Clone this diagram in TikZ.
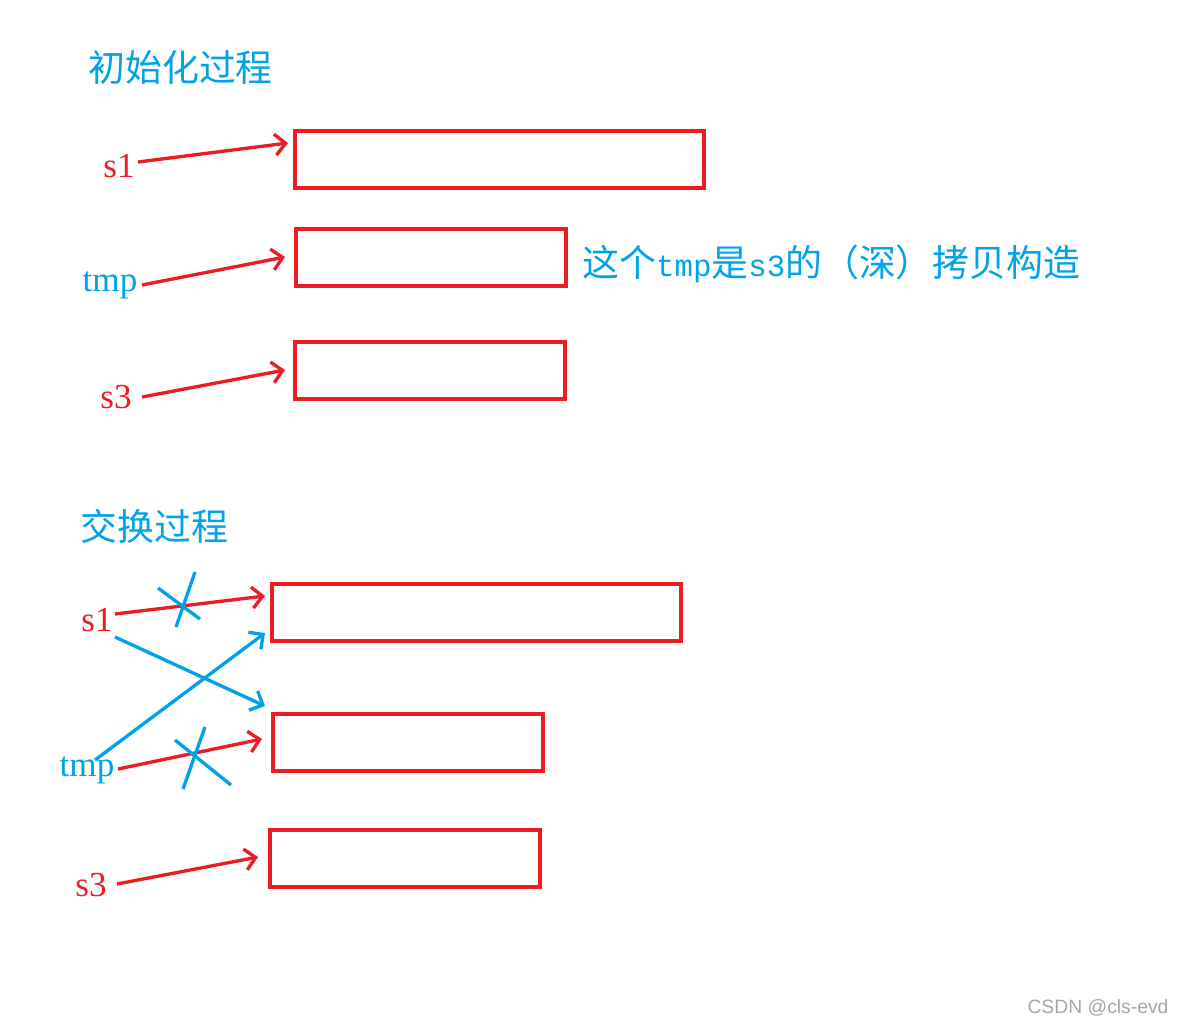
\documentclass[tikz,border=0pt]{standalone}
\usepackage{fontspec}
\setmainfont{Liberation Serif}
\newfontfamily\cjk{Noto Sans CJK SC}
\newfontfamily\monof{Liberation Mono}
\usetikzlibrary{arrows.meta}
\definecolor{rd}{RGB}{237,28,36}
\definecolor{bl}{RGB}{0,162,232}
\tikzset{
 box/.style={draw=rd,line width=2.2pt},
 lab/.style={text=rd,font=\fontsize{20}{20}\selectfont,inner sep=1pt},
 blab/.style={text=bl,font=\fontsize{20}{20}\selectfont,inner sep=1pt},
 title/.style={text=bl,font=\cjk\fontsize{21}{21}\selectfont,anchor=west,inner sep=0pt},
 rarr/.style={rd,line width=1.9pt,-{Straight Barb[length=6pt,width=12pt]}},
 barr/.style={bl,line width=1.9pt,-{Straight Barb[length=6pt,width=12pt]}},
 xl/.style={bl,line width=1.9pt},
}
\newcommand{\lat}[1]{{\monof\fontsize{17.5}{17.5}\selectfont #1}}
\begin{document}
\begin{tikzpicture}[x=0.02cm,y=-0.02cm]
\useasboundingbox (0,0) rectangle (1179,1025);
\node[title] (t1) at (88,67) {初始化过程};
\node[title] (t2) at (80,526) {交换过程};
% top
\draw[box] (295,131) rectangle (704,188);
\draw[box] (296,229) rectangle (566,286);
\draw[box] (295,342) rectangle (565,399);
\node[lab] (a1) at (119,166) {s1};
\node[blab] (a2) at (110,285) {tmp};
\node[lab] (a3) at (116,397) {s3};
\coordinate (e1) at (288,143);
\coordinate (e2) at (285,257);
\coordinate (e3) at (285,370);
\draw[rarr] (138,162) -- (e1);
\draw[rarr] (142,285) -- (e2);
\draw[rarr] (142,397) -- (e3);
\node[title] (note) at (582,264) {这个\lat{tmp}是\lat{s3}的（深）拷贝构造};
% bottom
\draw[box] (272,584) rectangle (681,641);
\draw[box] (273,714) rectangle (543,771);
\draw[box] (270,830) rectangle (540,887);
\node[lab] (b1) at (97,620) {s1};
\node[blab] (b2) at (87,770) {tmp};
\node[lab] (b3) at (91,885) {s3};
\coordinate (f1) at (265,596);
\coordinate (f2) at (262,739);
\coordinate (f3) at (258,857);
\coordinate (g1) at (265,633);
\coordinate (g2) at (265,706);
\draw[rarr] (115,614) -- (f1);
\draw[rarr] (118,769) -- (f2);
\draw[rarr] (117,884) -- (f3);
\draw[barr] (95,760) -- (g1);
\draw[barr] (115,637) -- (g2);
\draw[xl] (195,572) -- (176,627);
\draw[xl] (158,588) -- (200,619);
\draw[xl] (205,727) -- (183,789);
\draw[xl] (175,740) -- (231,785);
\node[text=gray!70,font=\fontspec{Liberation Sans}\fontsize{11}{11}\selectfont] (wm) at (1098,1008) {CSDN @cls-evd};
\end{tikzpicture}
\end{document}
